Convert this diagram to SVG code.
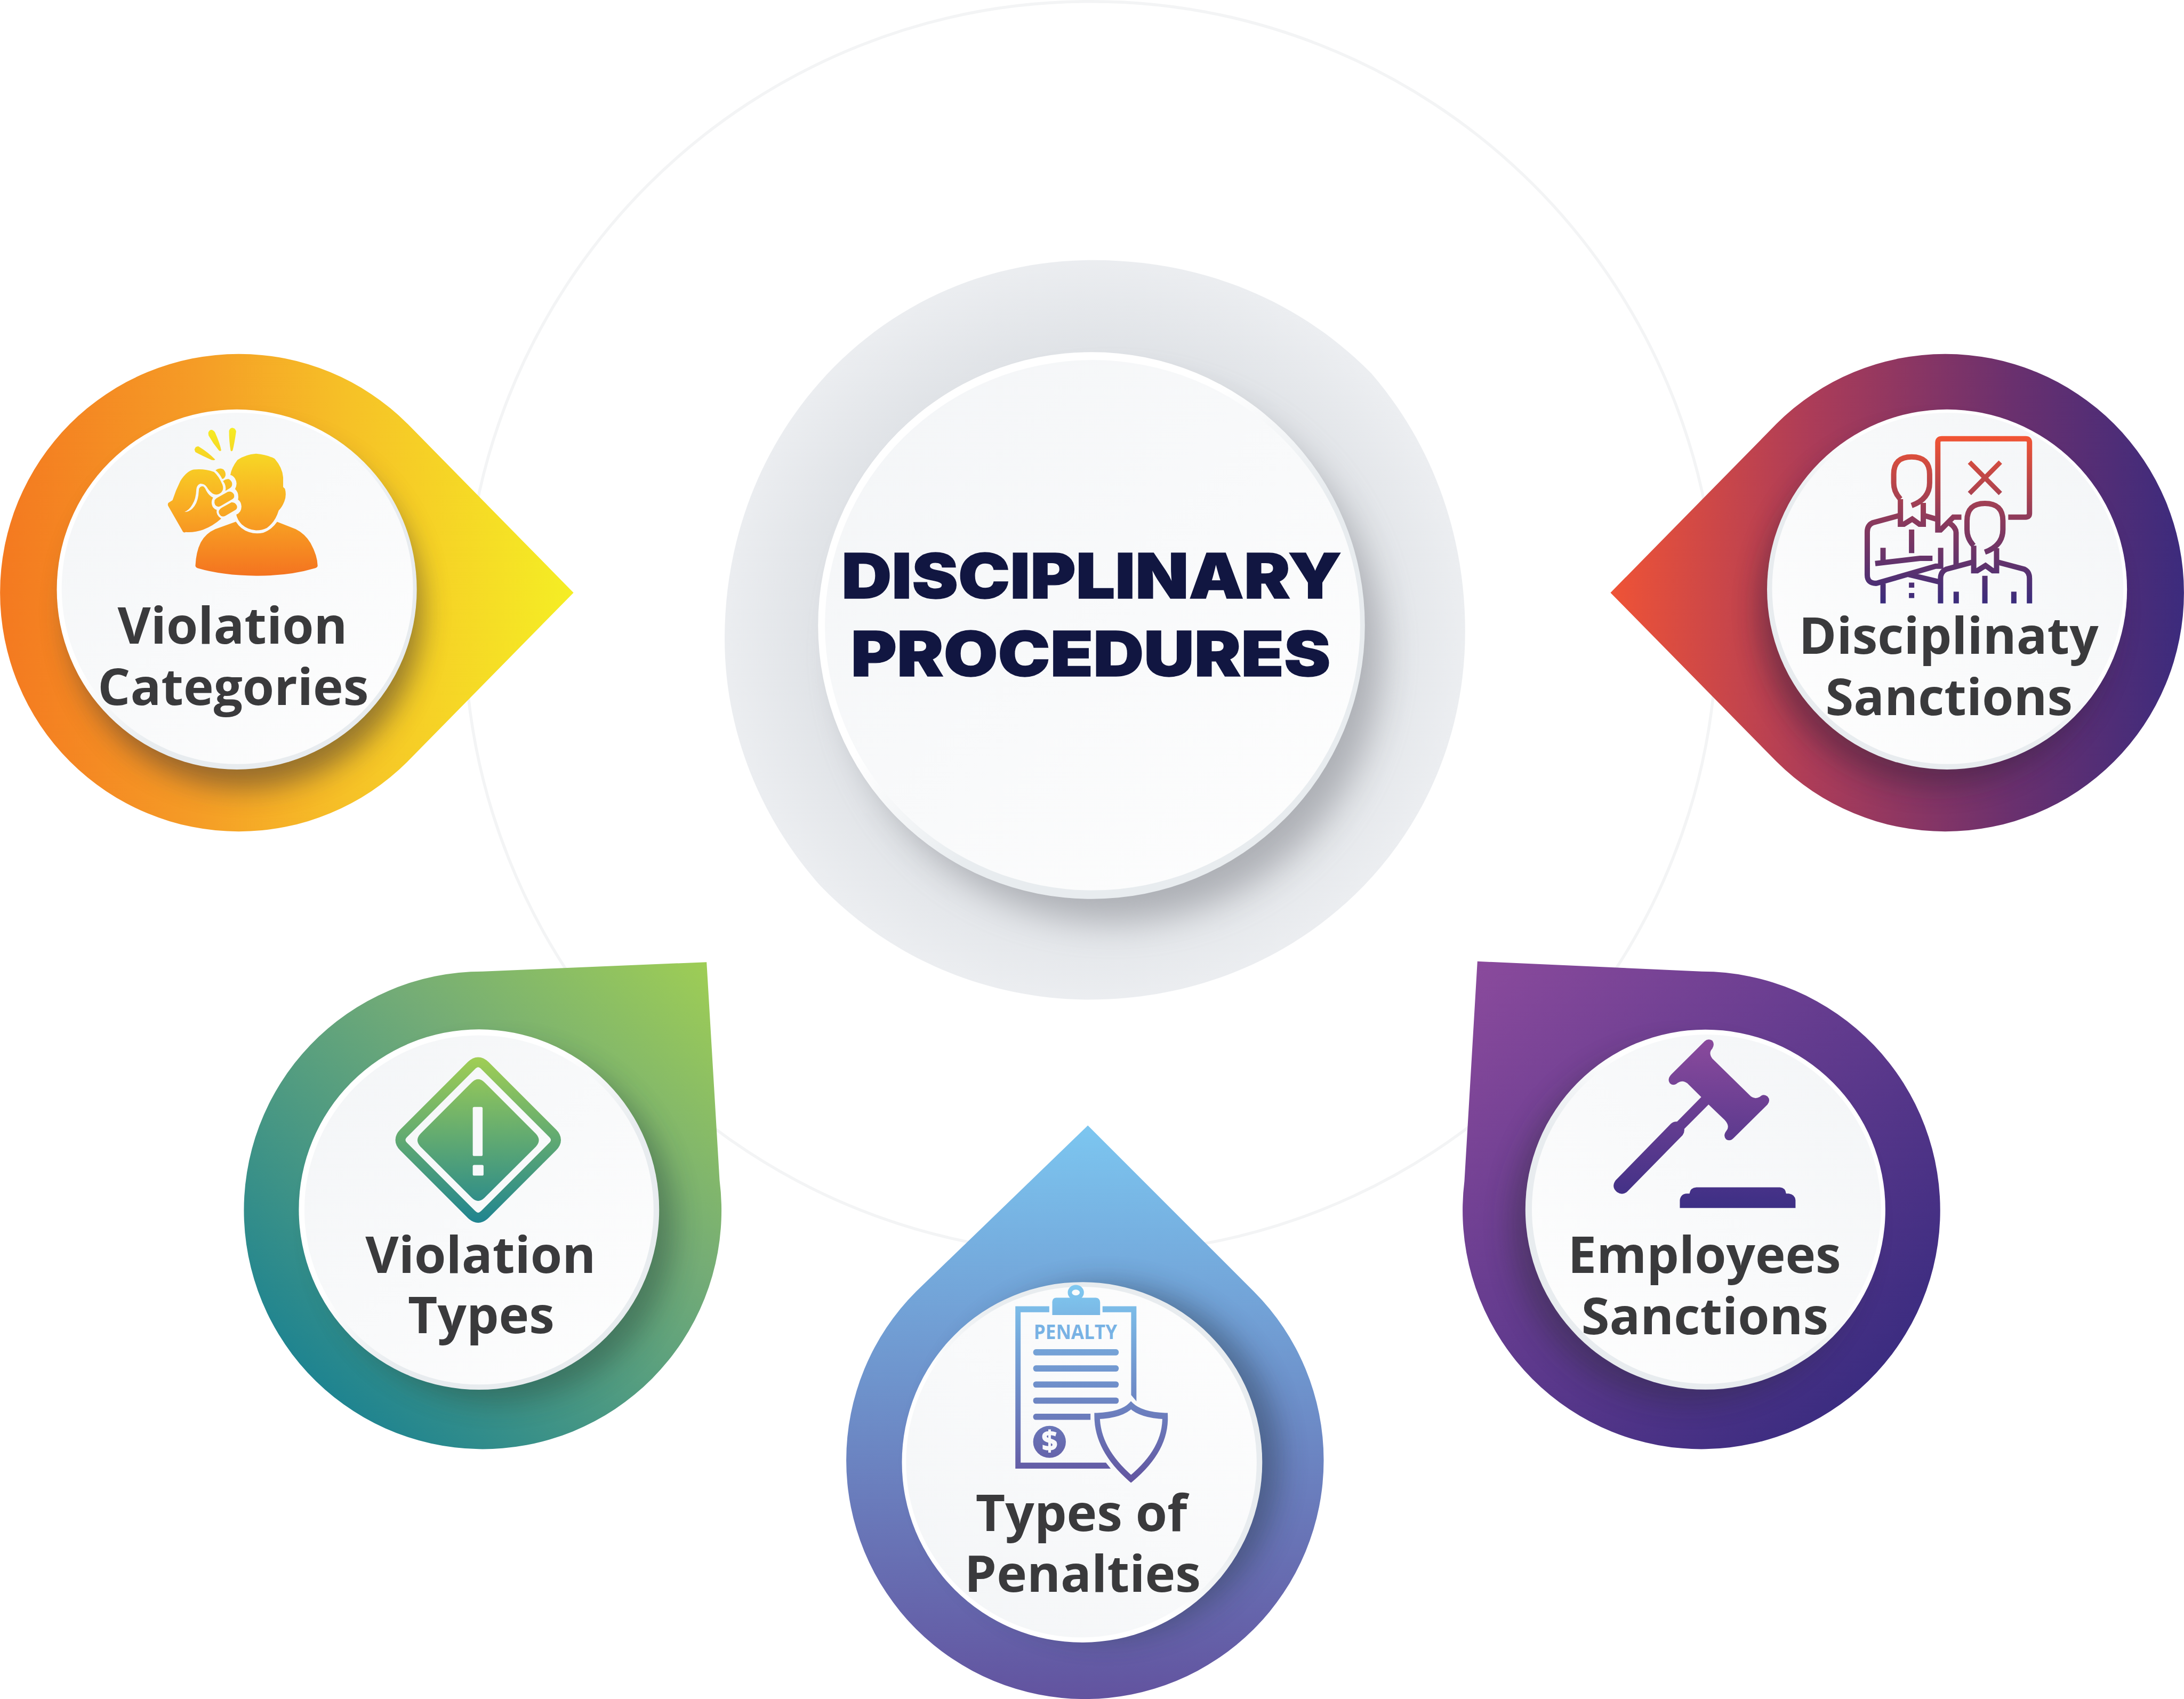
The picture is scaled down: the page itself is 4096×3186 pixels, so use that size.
<svg xmlns="http://www.w3.org/2000/svg" xmlns:xlink="http://www.w3.org/1999/xlink" width="4096" height="3186" viewBox="0 0 4096 3186">
<style>
.lbl{font-family:"Open Sans","Noto Sans","Liberation Sans",sans-serif;font-weight:700;font-size:141px;fill:#3a3a3c}
.ttl{font-family:Inter,"Liberation Sans",sans-serif;font-weight:900;font-size:172px;fill:#111641;stroke:#111641;stroke-width:2}
.ln{fill:none;stroke-linejoin:miter}
</style>
<defs>
<filter id="blurL" x="-30%" y="-30%" width="160%" height="160%"><feGaussianBlur stdDeviation="48"/></filter>
<filter id="blurN" x="-30%" y="-30%" width="160%" height="160%"><feGaussianBlur stdDeviation="38"/></filter>
<linearGradient id="g1" gradientUnits="userSpaceOnUse" x1="0" y1="0" x2="1590" y2="0"><stop offset="0" stop-color="#f47920"/><stop offset=".35" stop-color="#f59d26"/><stop offset=".6" stop-color="#f6c027"/><stop offset="1" stop-color="#f5ee24"/></linearGradient>
<linearGradient id="g2" gradientUnits="userSpaceOnUse" x1="4464" y1="0" x2="6055" y2="0"><stop offset="0" stop-color="#ef5336"/><stop offset=".35" stop-color="#ac3c58"/><stop offset=".7" stop-color="#6a306e"/><stop offset="1" stop-color="#3c2b7d"/></linearGradient>
<linearGradient id="g3" gradientUnits="userSpaceOnUse" x1="1959" y1="2667" x2="880" y2="3830"><stop offset="0" stop-color="#9ecd55"/><stop offset=".4" stop-color="#74ac76"/><stop offset="1" stop-color="#1f8490"/></linearGradient>
<linearGradient id="g4" gradientUnits="userSpaceOnUse" x1="4096" y1="2665" x2="5200" y2="3830"><stop offset="0" stop-color="#8a4a9c"/><stop offset="1" stop-color="#3b2c80"/></linearGradient>
<linearGradient id="g5" gradientUnits="userSpaceOnUse" x1="0" y1="3120" x2="0" y2="4710"><stop offset="0" stop-color="#7cc6f0"/><stop offset=".45" stop-color="#6e93cc"/><stop offset="1" stop-color="#62539f"/></linearGradient>
<linearGradient id="rimA" x1="0" y1="0" x2="1" y2="1"><stop offset=".4" stop-color="#fff"/><stop offset=".6" stop-color="#e8ecef"/></linearGradient>
<linearGradient id="rimB" x1="1" y1="0" x2="0" y2="1"><stop offset=".4" stop-color="#fff"/><stop offset=".6" stop-color="#e8ecef"/></linearGradient>
<linearGradient id="rimC" x1="0" y1="1" x2="1" y2="0"><stop offset=".4" stop-color="#fff"/><stop offset=".6" stop-color="#e8ecef"/></linearGradient>
<linearGradient id="faceA" x1="0" y1="0" x2="1" y2="1"><stop offset="0" stop-color="#f3f5f7"/><stop offset="1" stop-color="#fefefe"/></linearGradient>
<linearGradient id="faceB" x1="1" y1="0" x2="0" y2="1"><stop offset="0" stop-color="#f3f5f7"/><stop offset="1" stop-color="#fefefe"/></linearGradient>
<linearGradient id="faceC" x1="0" y1="1" x2="1" y2="0"><stop offset="0" stop-color="#f3f5f7"/><stop offset="1" stop-color="#fefefe"/></linearGradient>
<radialGradient id="halo" gradientUnits="userSpaceOnUse" cx="3030" cy="1745" r="1040"><stop offset=".72" stop-color="#dfe2e6"/><stop offset="1" stop-color="#eceef1"/></radialGradient>
<linearGradient id="i1" gradientUnits="userSpaceOnUse" x1="0" y1="200" x2="0" y2="1420"><stop offset="0" stop-color="#f5ec25"/><stop offset=".5" stop-color="#f9b024"/><stop offset="1" stop-color="#f47420"/></linearGradient>
<linearGradient id="i2" gradientUnits="userSpaceOnUse" x1="0" y1="113" x2="0" y2="1460"><stop offset="0" stop-color="#f25433"/><stop offset=".5" stop-color="#8c3a5c"/><stop offset="1" stop-color="#3a2c7c"/></linearGradient>
<linearGradient id="i3" gradientUnits="userSpaceOnUse" x1="0" y1="92" x2="0" y2="1472"><stop offset="0" stop-color="#a0ce54"/><stop offset="1" stop-color="#1f8490"/></linearGradient>
<linearGradient id="i4" gradientUnits="userSpaceOnUse" x1="0" y1="90" x2="0" y2="1448"><stop offset="0" stop-color="#8a4a9c"/><stop offset="1" stop-color="#3d2f85"/></linearGradient>
<linearGradient id="i5" gradientUnits="userSpaceOnUse" x1="0" y1="70" x2="0" y2="1490"><stop offset="0" stop-color="#7fc8f0"/><stop offset=".5" stop-color="#6f8fca"/><stop offset="1" stop-color="#62549f"/></linearGradient>
<path id="d1" d="M1590 1643L1130 1175A662 662 0 1 0 1130 2111Z"/>
<path id="d2" d="M4465 1643L4925 1175A662 662 0 1 1 4925 2111Z"/>
<path id="d3" d="M1959 2667L1338 2693A662 662 0 1 0 1995 3272Z"/>
<path id="d4" d="M4096 2665L4718 2693A662 662 0 1 1 4060 3274Z"/>
<path id="d5" d="M3016 3120L3476 3580A662 662 0 1 1 2540 3580Z"/>
<clipPath id="c1"><use href="#d1"/></clipPath>
<clipPath id="c2"><use href="#d2"/></clipPath>
<clipPath id="c3"><use href="#d3"/></clipPath>
<clipPath id="c4"><use href="#d4"/></clipPath>
<clipPath id="c5"><use href="#d5"/></clipPath>
<path id="haloShape" d="M2009 1770C2009 1190 2450 721 3030 721C3330 721 3600 830 3802 1035C3970 1230 4062 1480 4062 1750C4062 2330 3600 2771 3020 2771C2730 2771 2460 2650 2273 2454C2110 2270 2009 2030 2009 1770Z"/>
<clipPath id="cH"><use href="#haloShape"/></clipPath>
</defs>
<g transform="scale(0.67647)">
<g id="connectors"><circle cx="3024" cy="1740" r="1736" fill="none" stroke="#f3f4f5" stroke-width="8"/></g>

<g id="center">
<use href="#haloShape" fill="url(#halo)"/>
<g clip-path="url(#cH)"><circle cx="3085" cy="1810" r="745" fill="#85878e" opacity=".55" filter="url(#blurL)"/></g>
<circle cx="3026" cy="1734" r="758" fill="url(#rimA)"/>
<ellipse cx="3029" cy="1733" rx="742" ry="735" fill="url(#faceA)"/>
<text class="ttl" x="2333" y="1659" textLength="1387" lengthAdjust="spacingAndGlyphs">DISCIPLINARY</text>
<text class="ttl" x="2359" y="1874" textLength="1330" lengthAdjust="spacingAndGlyphs">PROCEDURES</text>
</g>

<g id="node-violation-categories">
<use href="#d1" fill="url(#g1)"/>
<g clip-path="url(#c1)"><circle cx="680" cy="1695" r="490" fill="#4a3a30" opacity=".55" filter="url(#blurN)"/></g>
<circle cx="656.5" cy="1634" r="499" fill="url(#rimA)"/>
<circle cx="658" cy="1631" r="487" fill="url(#faceA)"/>
<g transform="translate(400 1120) scale(.33333)" fill="url(#i1)">
<path d="M418 380Q425 350 450 352Q530 400 590 462Q585 470 560 465Q480 430 425 400Z"/>
<path d="M532 240Q540 212 565 215Q585 225 590 240Q630 330 640 385Q632 397 620 385Q570 325 535 262Z"/>
<path d="M705 222Q715 197 735 198Q760 205 764 228Q750 330 735 385Q725 400 718 385Q705 310 705 222Z"/>
<path d="M716 590Q725 530 775 465Q840 420 930 413Q1020 420 1085 455Q1150 530 1155 610L1155 690L1170 705Q1185 760 1165 810Q1145 860 1118 885Q1090 980 1020 1030Q980 1050 930 1050Q860 1045 810 1000Q775 965 765 920Q810 900 808 850Q805 810 780 795Q790 740 755 707Q780 660 755 620Q740 595 716 590Z"/>
<path d="M200 822L235 800Q260 720 300 640Q350 560 410 545Q500 535 580 565Q620 600 650 670Q665 710 640 735Q605 765 570 745Q540 725 520 690Q500 660 465 662Q435 675 433 710Q430 790 400 835Q375 880 335 897Q370 900 400 870Q440 830 450 760L455 705Q465 680 490 685Q505 695 515 720Q540 765 572 778Q555 810 562 835Q570 870 602 880Q595 925 640 953Q570 1015 490 1045Q420 1070 345 1065Q325 1075 315 1050L200 850Q192 835 200 822Z"/>
<path d="M592 550Q630 525 660 545Q685 575 672 605Q660 625 648 622Q625 575 592 550Z"/>
<path d="M655 640Q680 620 705 625Q735 645 730 675Q725 695 708 702L675 722Q685 680 655 640Z"/>
<path d="M585 800Q595 785 610 778L695 730Q725 720 745 750Q755 775 735 790L640 845Q610 865 590 840Q580 820 585 800Z"/>
<path d="M622 885Q630 870 645 862L725 818Q755 815 770 845Q778 865 760 880L675 930Q645 945 628 920Q615 900 622 885Z"/>
<path d="M425 1345Q430 1230 470 1150Q510 1075 590 1040L762 978Q800 1040 870 1065Q930 1085 990 1070Q1060 1045 1105 980L1260 1040Q1340 1080 1385 1160Q1440 1260 1442 1345Q1440 1360 1420 1365Q1200 1430 930 1428Q650 1425 445 1365Q428 1360 425 1345Z"/>
</g>
<text class="lbl" x="326" y="1785" textLength="637" lengthAdjust="spacingAndGlyphs">Violation</text>
<text class="lbl" x="271" y="1955" textLength="751" lengthAdjust="spacingAndGlyphs">Categories</text>
</g>

<g id="node-disciplinaty-sanctions">
<use href="#d2" fill="url(#g2)"/>
<g clip-path="url(#c2)"><circle cx="5368" cy="1690" r="490" fill="#2a1a30" opacity=".42" filter="url(#blurN)"/></g>
<circle cx="5398" cy="1634" r="499" fill="url(#rimB)"/>
<circle cx="5400" cy="1631" r="487" fill="url(#faceB)"/>
<g transform="translate(5120 1170) scale(.34438)" class="ln" stroke="url(#i2)" stroke-width="43">
<path d="M923 765H858L755 868H733V165Q733 134 765 134H1440Q1471 134 1471 165V735Q1471 765 1440 765H1300"/>
<path d="M988 323L1237 575M1237 323L988 575" stroke-width="38"/>
<path d="M432 620Q378 565 378 490V420Q378 280 522 280Q667 280 667 420V490Q667 620 522 672"/>
<path d="M432 620V822H460L527 780L585 822H616V650"/>
<path d="M432 750L210 810Q165 830 165 885V1230Q165 1300 240 1298L716 1160H756V1012"/>
<path d="M292 1012V1138M229 1139L590 1097H690"/>
<path d="M616 750L735 785M830 815Q880 850 880 890V1165"/>
<path d="M522 865V1055M522 1292V1333M522 1376V1417M292 1300V1460M490 1225L740 1285"/>
<path d="M1022 995Q968 940 968 865V795Q968 655 1112 655Q1257 655 1257 795V865Q1257 995 1112 1047"/>
<path d="M1022 995V1197H1050L1117 1155L1175 1197H1206V1015"/>
<path d="M1022 1125L800 1185Q755 1205 755 1260V1460M1206 1125L1430 1185Q1471 1205 1471 1260V1460"/>
<path d="M1112 1237V1460M881 1365V1460M1345 1365V1460"/>
</g>
<text class="lbl" x="4987" y="1813" textLength="831" lengthAdjust="spacingAndGlyphs">Disciplinaty</text>
<text class="lbl" x="5061" y="1983" textLength="685" lengthAdjust="spacingAndGlyphs">Sanctions</text>
</g>

<g id="node-violation-types">
<use href="#d3" fill="url(#g3)"/>
<g clip-path="url(#c3)"><circle cx="1380" cy="3395" r="490" fill="#2c4a3a" opacity=".45" filter="url(#blurN)"/></g>
<circle cx="1328" cy="3353" r="499.5" fill="url(#rimA)"/>
<circle cx="1328" cy="3354" r="484" fill="url(#faceA)"/>
<g transform="translate(1060 2900) scale(.33333)">
<path d="M740 162Q797 105 854 162L1415 723Q1472 780 1415 837L854 1398Q797 1455 740 1398L179 837Q122 780 179 723Z" fill="none" stroke="url(#i3)" stroke-width="84"/>
<path d="M745 300Q797 250 849 300L1277 728Q1327 782 1277 836L849 1262Q797 1312 745 1262L317 836Q267 782 317 728Z" fill="url(#i3)"/>
<rect x="752" y="506" width="82" height="408" rx="12" fill="#f8f9fb"/>
<rect x="752" y="988" width="90" height="89" rx="12" fill="#f8f9fb"/>
</g>
<text class="lbl" x="1013" y="3528" textLength="639" lengthAdjust="spacingAndGlyphs">Violation</text>
<text class="lbl" x="1131" y="3696" textLength="406" lengthAdjust="spacingAndGlyphs">Types</text>
</g>

<g id="node-employees-sanctions">
<use href="#d4" fill="url(#g4)"/>
<g clip-path="url(#c4)"><circle cx="4680" cy="3395" r="490" fill="#2a2a30" opacity=".38" filter="url(#blurN)"/></g>
<circle cx="4728" cy="3353" r="499" fill="url(#rimB)"/>
<circle cx="4731" cy="3352" r="484" fill="url(#faceB)"/>
<g transform="translate(4420 2850) scale(.38265 .34439)" fill="url(#i4)">
<path d="M800 105Q825 80 855 100Q875 130 855 165Q825 200 855 245L1135 550Q1165 575 1200 553Q1225 525 1255 550Q1280 580 1255 615L1010 885Q985 915 955 895Q930 865 958 825Q985 790 945 740L828 615L652 812Q655 840 640 862L240 1315Q205 1350 165 1320Q120 1280 155 1225L555 770Q575 750 600 753L775 555L675 445Q640 415 605 440Q575 470 548 445Q525 410 560 370Z"/>
<path d="M620 1448V1385Q625 1335 670 1332H690Q695 1285 740 1282H1345Q1385 1285 1390 1332H1410Q1455 1340 1458 1385V1448Z"/>
</g>
<text class="lbl" x="4347" y="3529" textLength="757" lengthAdjust="spacingAndGlyphs">Employees</text>
<text class="lbl" x="4384" y="3698" textLength="685" lengthAdjust="spacingAndGlyphs">Sanctions</text>
</g>

<g id="node-types-of-penalties">
<use href="#d5" fill="url(#g5)"/>
<g clip-path="url(#c5)"><circle cx="3060" cy="4050" r="490" fill="#2a3a50" opacity=".45" filter="url(#blurN)"/></g>
<circle cx="3000" cy="4053.5" r="499.5" fill="url(#rimC)"/>
<circle cx="2998" cy="4053" r="486" fill="url(#faceC)"/>
<g transform="translate(2760 3540) scale(.33333 .38265)" fill="url(#i5)">
<ellipse cx="668" cy="112" rx="50" ry="38" fill="none" stroke="url(#i5)" stroke-width="34"/>
<path d="M472 275V180Q475 150 505 150H835Q868 152 870 185V275Z"/>
<path d="M165 212H447V255H209V1345H918L958 1388H165Z"/>
<path d="M890 212H1172V900L1128 855V255H890Z"/>
<rect x="313" y="523" width="712" height="45" rx="22"/>
<rect x="313" y="640" width="712" height="45" rx="22"/>
<rect x="313" y="756" width="712" height="45" rx="22"/>
<rect x="313" y="873" width="712" height="45" rx="22"/>
<path d="M335 990H790V1035H335A22 22 0 0 1 335 990Z"/>
<ellipse cx="449" cy="1194" rx="136" ry="116"/>
<path d="M1127 930Q1210 1000 1410 1007Q1420 1250 1127 1462Q845 1250 845 1007Q1050 1000 1127 930Z" fill="none" stroke="url(#i5)" stroke-width="46"/>
</g>
<text x="2866" y="3712" textLength="231" lengthAdjust="spacingAndGlyphs" style="font-family:'Open Sans','Noto Sans',sans-serif;font-weight:700;font-size:56px;fill:#78b2e4">PENALTY</text>
<text x="2910" y="4022" text-anchor="middle" style="font-family:'Open Sans','Noto Sans',sans-serif;font-weight:800;font-size:78px;fill:#f8f9fb">$</text>
<text class="lbl" x="2705" y="4244" textLength="586" lengthAdjust="spacingAndGlyphs">Types of</text>
<text class="lbl" x="2674" y="4413" textLength="655" lengthAdjust="spacingAndGlyphs">Penalties</text>
</g>
</g>
</svg>
